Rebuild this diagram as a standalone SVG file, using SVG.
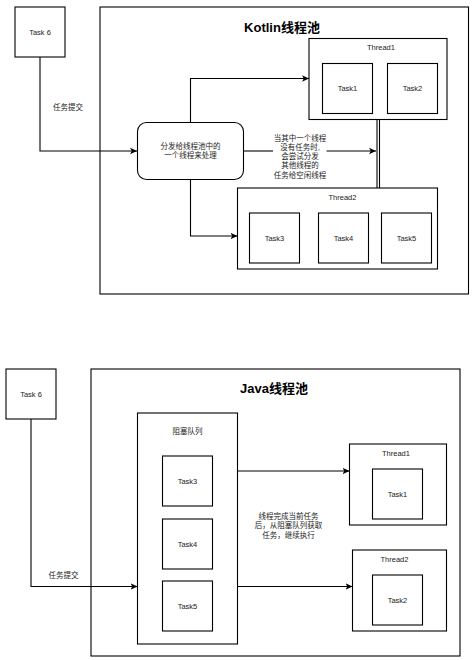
<svg xmlns="http://www.w3.org/2000/svg" width="474" height="660" viewBox="0 0 474 660">
<defs>
<marker id="ah" markerWidth="8" markerHeight="8" refX="7" refY="4" orient="auto" markerUnits="userSpaceOnUse">
<path d="M0,0.8 L7,4 L0,7.2 L1.8,4 Z" fill="#000"/>
</marker>
<style>
.b{fill:#fff;stroke:#000;stroke-width:1.1}
.c{fill:none;stroke:#000;stroke-width:1.1}
.t{font-family:"Liberation Sans","Noto Sans CJK SC",sans-serif;font-size:7.5px;fill:#222;text-anchor:middle;dominant-baseline:central}
.h{font-family:"Liberation Sans","Noto Sans CJK SC",sans-serif;font-size:13px;font-weight:bold;fill:#000;text-anchor:middle;dominant-baseline:central}
</style>
</defs>
<rect width="474" height="660" fill="#fff"/>

<!-- Kotlin section -->
<g id="kotlin-pool"><rect class="b" x="100" y="7" width="368.5" height="287"/><text class="h" x="282" y="27">Kotlin线程池</text></g>
<g id="k-task6"><rect class="b" x="15" y="7" width="50" height="50"/><text class="t" x="40" y="32">Task 6</text></g>
<g id="k-dispatch"><rect class="b" x="137.5" y="122.5" width="106" height="57" rx="9"/><text class="t" x="190.5" y="146">分发给线程池中的</text><text class="t" x="190.5" y="155.5">一个线程来处理</text></g>
<g id="k-thread1"><rect class="b" x="309" y="38.5" width="138" height="81"/><text class="t" x="381" y="47.5">Thread1</text></g>
<g id="k-task1"><rect class="b" x="322.5" y="63.5" width="50" height="50"/><text class="t" x="347.5" y="88.5">Task1</text></g>
<g id="k-task2"><rect class="b" x="387.5" y="63.5" width="50" height="50"/><text class="t" x="412.5" y="88.5">Task2</text></g>
<g id="k-thread2"><rect class="b" x="237.5" y="188" width="200" height="81"/><text class="t" x="342.5" y="197.5">Thread2</text></g>
<g id="k-task3"><rect class="b" x="249.5" y="213" width="50" height="50"/><text class="t" x="274.5" y="238">Task3</text></g>
<g id="k-task4"><rect class="b" x="318.5" y="213" width="50" height="50"/><text class="t" x="343.5" y="238">Task4</text></g>
<g id="k-task5"><rect class="b" x="381.5" y="213" width="50" height="50"/><text class="t" x="406.5" y="238">Task5</text></g>

<!-- Java section -->
<g id="java-pool"><rect class="b" x="91" y="369" width="369" height="287"/><text class="h" x="274" y="388">Java线程池</text></g>
<g id="j-task6"><rect class="b" x="6" y="369" width="50" height="50"/><text class="t" x="31" y="394">Task 6</text></g>
<g id="j-queue"><rect class="b" x="137.5" y="413" width="100" height="231"/><text class="t" x="187.5" y="431">阻塞队列</text></g>
<g id="j-task3"><rect class="b" x="162.5" y="456" width="50" height="50"/><text class="t" x="187.5" y="481">Task3</text></g>
<g id="j-task4"><rect class="b" x="162.5" y="519" width="50" height="50"/><text class="t" x="187.5" y="544">Task4</text></g>
<g id="j-task5"><rect class="b" x="162.5" y="581" width="50" height="50"/><text class="t" x="187.5" y="606">Task5</text></g>
<g id="j-thread1"><rect class="b" x="349.5" y="444" width="97" height="81"/><text class="t" x="396" y="453.5">Thread1</text></g>
<g id="j-task1"><rect class="b" x="372.5" y="469" width="50" height="50"/><text class="t" x="397.5" y="494">Task1</text></g>
<g id="j-thread2"><rect class="b" x="352.5" y="550" width="94" height="81"/><text class="t" x="394.5" y="559.5">Thread2</text></g>
<g id="j-task2"><rect class="b" x="372.5" y="575" width="50" height="50"/><text class="t" x="397.5" y="600">Task2</text></g>

<!-- connectors -->
<g id="connectors">
<path class="c" d="M40,57 V151 H137" marker-end="url(#ah)"/>
<text class="t" x="68" y="107">任务提交</text>
<path class="c" d="M190.5,122.5 V78.5 H309" marker-end="url(#ah)"/>
<path class="c" d="M190.5,179.5 V236 H237.5" marker-end="url(#ah)"/>
<path class="c" d="M243.5,151 H273"/>
<path class="c" d="M326.5,151 H376" marker-end="url(#ah)"/>
<text class="t" x="300" y="138.5">当其中一个线程</text>
<text class="t" x="300" y="147.5">没有任务时,</text>
<text class="t" x="300" y="156.7">会尝试分发</text>
<text class="t" x="300" y="165.9">其他线程的</text>
<text class="t" x="300" y="175.1">任务给空闲线程</text>
<line class="c" x1="377" y1="119.5" x2="377" y2="188"/>
<line class="c" x1="379.5" y1="119.5" x2="379.5" y2="188"/>
<path class="c" d="M31,419 V586.5 H137.5" marker-end="url(#ah)"/>
<text class="t" x="63.5" y="575">任务提交</text>
<path class="c" d="M237.5,471 H349.5" marker-end="url(#ah)"/>
<path class="c" d="M237.5,586.5 H352.5" marker-end="url(#ah)"/>
<text class="t" x="288.5" y="516">线程完成当前任务</text>
<text class="t" x="288.5" y="525.5">后，从阻塞队列获取</text>
<text class="t" x="288.5" y="535">任务，继续执行</text>
</g>
</svg>
